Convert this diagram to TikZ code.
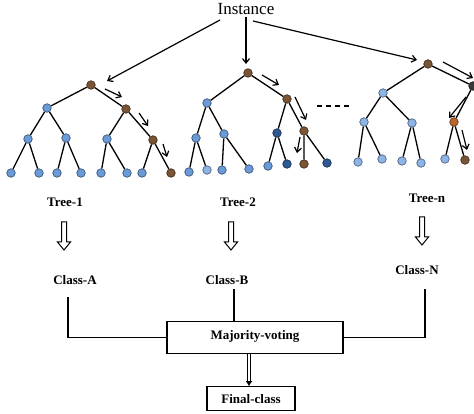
\documentclass[tikz,border=0pt]{standalone}
\usepackage{fontspec}
\setmainfont{Liberation Serif}
\usetikzlibrary{arrows.meta}
\definecolor{nblue}{HTML}{6B9AD8}
\definecolor{nlblue}{HTML}{8DB4E6}
\definecolor{ndblue}{HTML}{2E5A94}
\definecolor{nbrown}{HTML}{7A5535}
\definecolor{norange}{HTML}{B8682E}
\definecolor{ndark}{HTML}{3A3A3A}
\tikzset{
  nd/.style={circle,draw=#1!55!black,line width=0.7pt,fill=#1,inner sep=0pt,minimum size=8.5pt},
  edge/.style={line width=1.3pt,black},
  dirarrow/.style={line width=1.2pt,-{Straight Barb[length=4.5pt,width=7pt]}},
  lbl/.style={font=\fontsize{13}{15}\selectfont\bfseries,inner sep=0pt},
  hollow/.style={draw,line width=1pt,fill=white,line join=miter},
  bx/.style={draw,line width=1.2pt,inner sep=0pt},
  conn/.style={line width=1.2pt}
}
\newcommand{\hollowarrow}[1]{%
  \draw[hollow] ([xshift=-2.5pt,yshift=14pt]#1) -- ([xshift=2.5pt,yshift=14pt]#1)
    -- ([xshift=2.5pt,yshift=-6pt]#1) -- ([xshift=6.5pt,yshift=-6pt]#1)
    -- ([yshift=-14pt]#1) -- ([xshift=-6.5pt,yshift=-6pt]#1)
    -- ([xshift=-2.5pt,yshift=-6pt]#1) -- cycle;}
\begin{document}
\begin{tikzpicture}[x=1pt,y=-1pt]
\useasboundingbox (0,0) rectangle (474,414);
% Instance
\node[font=\fontsize{17}{19}\selectfont,anchor=base,inner sep=0pt] (inst) at (246,14.5) {Instance};
% ---------------- Tree 1
\node[nd=nbrown] (a0) at (91,85) {};
\node[nd=nblue] (a1) at (47,108) {};
\node[nd=nbrown] (a2) at (126,109) {};
\node[nd=nblue] (a3) at (28,139) {};
\node[nd=nblue] (a4) at (66,138) {};
\node[nd=nblue] (a5) at (107,139) {};
\node[nd=nbrown] (a6) at (153,140) {};
\node[nd=nblue] (a7) at (11,173) {};
\node[nd=nblue] (a8) at (39,173) {};
\node[nd=nblue] (a9) at (57,173) {};
\node[nd=nblue] (a10) at (81,173) {};
\node[nd=nblue] (a11) at (101,173) {};
\node[nd=nblue] (a12) at (127,173) {};
\node[nd=nblue] (a13) at (142,173) {};
\node[nd=nbrown] (a14) at (171,173) {};
\draw[edge] (a0)--(a1) (a0)--(a2) (a1)--(a3) (a1)--(a4) (a2)--(a5) (a2)--(a6)
  (a3)--(a7) (a3)--(a8) (a4)--(a9) (a4)--(a10) (a5)--(a11) (a5)--(a12) (a6)--(a13) (a6)--(a14);
\coordinate (p1s) at (105,89); \coordinate (p1e) at (122,97);
\coordinate (p2s) at (139,113); \coordinate (p2e) at (148,126);
\coordinate (p3s) at (163,144); \coordinate (p3e) at (167,157);
\draw[dirarrow] (p1s)--(p1e); \draw[dirarrow] (p2s)--(p2e); \draw[dirarrow] (p3s)--(p3e);
% ---------------- Tree 2
\node[nd=nbrown] (b0) at (248,73) {};
\node[nd=nblue] (b1) at (207,103) {};
\node[nd=nbrown] (b2) at (287,99) {};
\node[nd=nblue] (b3) at (196,138) {};
\node[nd=nblue] (b4) at (224,134) {};
\node[nd=ndblue] (b5) at (277,133) {};
\node[nd=nbrown] (b6) at (304,131) {};
\node[nd=nblue] (b7) at (189,172) {};
\node[nd=nlblue] (b8) at (207,170) {};
\node[nd=nblue] (b9) at (222,170) {};
\node[nd=nblue] (b10) at (249,169) {};
\node[nd=nblue] (b11) at (268,166) {};
\node[nd=ndblue] (b12) at (287,164) {};
\node[nd=nbrown] (b13) at (304,164) {};
\node[nd=ndblue] (b14) at (327,163) {};
\draw[edge] (b0)--(b1) (b0)--(b2) (b1)--(b3) (b1)--(b4) (b2)--(b5) (b2)--(b6)
  (b3)--(b7) (b3)--(b8) (b4)--(b9) (b4)--(b10) (b5)--(b11) (b5)--(b12) (b6)--(b13) (b6)--(b14);
\coordinate (q1s) at (262,75); \coordinate (q1e) at (279,85);
\coordinate (q2s) at (295,97); \coordinate (q2e) at (306,120);
\coordinate (q3s) at (300,137); \coordinate (q3e) at (297,153);
\draw[dirarrow] (q1s)--(q1e); \draw[dirarrow] (q2s)--(q2e); \draw[dirarrow] (q3s)--(q3e);
% dashes
\coordinate (ds) at (317,106); \coordinate (de) at (350,106);
\draw[line width=1.2pt,dash pattern=on 5pt off 4pt] (ds)--(de);
% ---------------- Tree n
\node[nd=nbrown] (c0) at (428,64) {};
\node[nd=nlblue] (c1) at (383,93) {};
\node[nd=ndark] (c2) at (473,86) {};
\node[nd=nlblue] (c3) at (364,122) {};
\node[nd=nlblue] (c4) at (412,123) {};
\node[nd=norange] (c5) at (454,122) {};
\node[nd=nlblue] (c7) at (358,162) {};
\node[nd=nlblue] (c8) at (382,159) {};
\node[nd=nlblue] (c9) at (402,161) {};
\node[nd=nlblue] (c10) at (421,163) {};
\node[nd=nlblue] (c11) at (445,159) {};
\node[nd=nbrown] (c12) at (465,160) {};
\draw[edge] (c0)--(c1) (c0)--(c2) (c1)--(c3) (c1)--(c4) (c2)--(c5)
  (c3)--(c7) (c3)--(c8) (c4)--(c9) (c4)--(c10) (c5)--(c11) (c5)--(c12);
\coordinate (r1s) at (443,62); \coordinate (r1e) at (473,78);
\coordinate (r2s) at (466,97); \coordinate (r2e) at (449,118);
\coordinate (r3s) at (462,130); \coordinate (r3e) at (467,150);
\draw[dirarrow] (r1s)--(r1e); \draw[dirarrow] (r2s)--(r2e); \draw[dirarrow] (r3s)--(r3e);
% ---------------- Instance arrows
\coordinate (i1s) at (220,20); \coordinate (i1e) at (107,81);
\coordinate (i2s) at (246,17); \coordinate (i2e) at (246,64);
\coordinate (i3s) at (253,21); \coordinate (i3e) at (417,60);
\draw[dirarrow] (i1s)--(i1e); \draw[dirarrow] (i2s)--(i2e); \draw[dirarrow] (i3s)--(i3e);
% ---------------- Labels
\node[lbl,anchor=base] (t1) at (65,207) {Tree-1};
\node[lbl,anchor=base] (t2) at (238,207) {Tree-2};
\node[lbl,anchor=base] (tn) at (427,203) {Tree-n};
\coordinate (h1) at (64,236); \coordinate (h2) at (231,236); \coordinate (hn) at (422,231);
\hollowarrow{h1}
\hollowarrow{h2}
\hollowarrow{hn}
\node[lbl,anchor=base] (ca) at (75,284) {Class-A};
\node[lbl,anchor=base] (cb) at (227,284) {Class-B};
\node[lbl,anchor=base] (cn) at (417,274) {Class-N};
% boxes
\node[bx,minimum width=176pt,minimum height=31.5pt] (mv) at (255,337.5) {};
\node[lbl] (mvt) at (255,336) {Majority-voting};
\node[bx,minimum width=88pt,minimum height=23.5pt] (fc) at (251,398.5) {};
\node[lbl] (fct) at (251,399) {Final-class};
% connectors
\coordinate (ka) at (68,297); \coordinate (kb) at (234,289); \coordinate (kn) at (425,289);
\draw[conn] (ka) |- (mv.west);
\draw[conn] (kb) -- (kb |- mv.north);
\draw[conn] (kn) |- (mv.east);
\draw[line width=0.9pt,double,double distance=2.2pt,-{Latex[length=5pt,width=7pt]}] ([xshift=-6pt]mv.south) -- ([xshift=-2pt]fc.north);
\end{tikzpicture}
\end{document}
